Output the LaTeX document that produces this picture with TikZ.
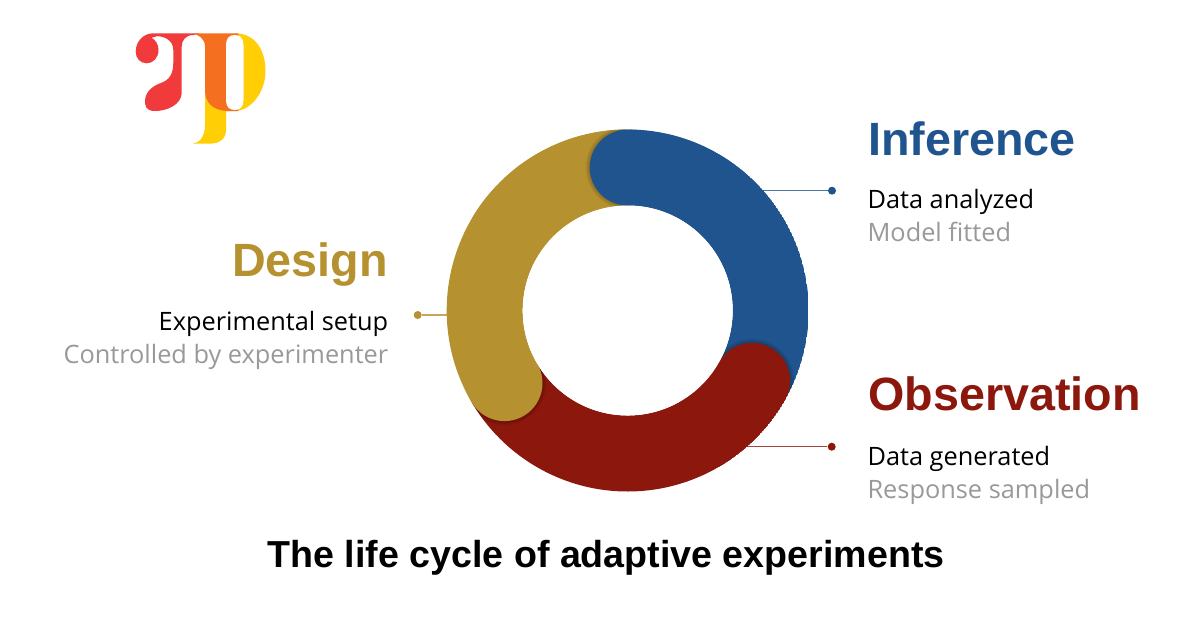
\documentclass[tikz,border=0pt]{standalone}
\usepackage{fontspec}
\usepackage{tikz}
\usetikzlibrary{calc}
\setmainfont{Liberation Sans}
\newfontfamily\bodyfont{Open Sans}

\definecolor{infblue}{HTML}{1F548E}
\definecolor{obsred}{HTML}{8C170D}
\definecolor{desgold}{HTML}{B69130}
\definecolor{subgray}{HTML}{999999}
\definecolor{logored}{HTML}{F03A3C}
\definecolor{logoorange}{HTML}{F56F20}
\definecolor{logoyellow}{HTML}{FFCE05}

\tikzset{
  ringarc/.style={line width=57pt},
  capshadow/.style={black,opacity=0.05},
  leader/.style={line width=1.1pt},
  leaderdot/.style={circle,fill,inner sep=0pt,minimum size=6pt},
  headtext/.style={inner sep=0pt,font=\fontsize{35}{35}\selectfont\bfseries},
  maintext/.style={inner sep=0pt,text=black,font=\bodyfont\fontsize{19}{19}\selectfont},
  subtext/.style={inner sep=0pt,text=subgray,font=\bodyfont\fontsize{19}{19}\selectfont},
  captext/.style={inner sep=0pt,text=black,font=\fontsize{28.2}{28.2}\selectfont\bfseries}
}

\begin{document}
\begin{tikzpicture}[x=0.75pt,y=0.75pt,yscale=-1,xscale=1]

            \useasboundingbox (0,0) rectangle (1200,639);
            \fill[white] (0,0) rectangle (1200,639);
            \coordinate (centre) at (627.7,310.5);

            % Logo
            \fill[logoyellow] (235,33.3) .. controls (255,33.3) and (265.5,50) .. (265.5,71)
                .. controls (265.5,93) and (250,111) .. (235,111) -- (226,111) -- (226,130)
                .. controls (226,139) and (219,143.5) .. (212,143.5) -- (193,143.5)
                .. controls (200,143) and (205,136) .. (205,125) -- (205,90) -- cycle;
            \fill[logored] (153.3,33.3) -- (200,33.3) -- (193.3,35)
                .. controls (186,35) and (181.7,40) .. (181.7,46.7) -- (181.7,93.3)
                .. controls (181,105) and (166.7,111) .. (155,111)
                .. controls (145,111) and (145,105) .. (145,100)
                .. controls (146,90) and (155,85) .. (161.7,82.7)
                .. controls (173.3,78.3) and (173.3,68) .. (173.3,60) -- (173.3,50)
                .. controls (173.3,40) and (164,36.2) .. (157,36.2) -- (151.5,37.8)
                .. controls (155.5,40) and (158.5,44) .. (158.5,50)
                .. controls (158.5,58) and (153,63.3) .. (146.7,63.3)
                .. controls (140,63.3) and (135.7,58) .. (135.7,51.7)
                .. controls (135.7,42) and (143,33.3) .. (153.3,33.3) -- cycle;
            \fill[logoorange] (193,33.3) -- (238.3,33.3) -- (238.3,111) -- (226.7,111)
                .. controls (213.3,110) and (205,103.3) .. (205,90) -- (205,46.7)
                .. controls (205,38) and (198,35) .. (193,33.3) -- cycle;
            \fill[white] (226,45) .. controls (226,38) and (229.5,35) .. (234.7,35)
                .. controls (240,35) and (243.5,38) .. (243.5,45) -- (243.5,100)
                .. controls (243.5,107) and (240,110) .. (234.7,110)
                .. controls (229.5,110) and (226,107) .. (226,100) -- cycle;

            % Leaders
            \node[leaderdot,infblue] (infdot) at (832,190.7) {};
            \node[leaderdot,desgold] (desdot) at (417.7,315) {};
            \node[leaderdot,obsred] (obsdot) at (831.7,446.7) {};
            \coordinate (infring) at (750,190.7);
            \coordinate (desring) at (460,315);
            \coordinate (obsring) at (730,446.7);
            \draw[leader,infblue!80!white] (infdot) -- (infring);
            \draw[leader,desgold!80!white] (desdot) -- (desring);
            \draw[leader,obsred!80!white] (obsdot) -- (obsring);

            % Ring
            \begin{scope}
            \clip (centre) circle (181);
            \draw[ringarc,obsred] ($(centre)+(30:143)$) arc[start angle=30,end angle=150,radius=143];
            \draw[ringarc,desgold] ($(centre)+(-90:143)$) arc[start angle=-90,end angle=-149.5,radius=143];
            \foreach \r in {39,40,41,42} {
                \fill[capshadow] ($(centre)+(149.5:143)$) circle (\r);
            }
            \fill[desgold] ($(centre)+(149.5:143)$) circle (38);
            \draw[ringarc,desgold] ($(centre)+(149.5:143)$) arc[start angle=149.5,end angle=270,radius=143];
            \foreach \r in {39,40,41,42} {
                \fill[capshadow] ($(centre)+(-90:143)$) circle (\r);
            }
            \fill[infblue] ($(centre)+(-90:143)$) circle (38);
            \draw[ringarc,infblue] ($(centre)+(-90:143)$) arc[start angle=-90,end angle=40,radius=143];
            \foreach \r in {39,40,41,42} {
                \fill[capshadow] ($(centre)+(29.5:143)$) circle (\r);
            }
            \fill[obsred] ($(centre)+(29.5:143)$) circle (38);
            \draw[ringarc,obsred] ($(centre)+(29.5:143)$) arc[start angle=29.5,end angle=60,radius=143];
            \end{scope}
            \fill[white] (centre) circle (105);

            % Labels
            \node[headtext,text=infblue,anchor=base west] (infhead) at (868,155) {Inference};
            \node[maintext,anchor=base west] (infmain) at (867.3,208.3) {Data analyzed};
            \node[subtext,anchor=base west] (infsub) at (867.3,241.7) {Model fitted};
            \node[headtext,text=desgold,anchor=base east] (deshead) at (388,276.7) {Design};
            \node[maintext,anchor=base east] (desmain) at (388.5,330) {Experimental setup};
            \node[subtext,anchor=base east] (dessub) at (388.5,363.3) {Controlled by experimenter};
            \node[headtext,text=obsred,anchor=base west] (obshead) at (868.3,410) {Observation};
            \node[maintext,anchor=base west] (obsmain) at (867.3,465) {Data generated};
            \node[subtext,anchor=base west] (obssub) at (867.3,498.3) {Response sampled};
            \node[captext,anchor=base] (caption) at (606,567) {The life cycle of adaptive experiments};

\end{tikzpicture}
\end{document}
